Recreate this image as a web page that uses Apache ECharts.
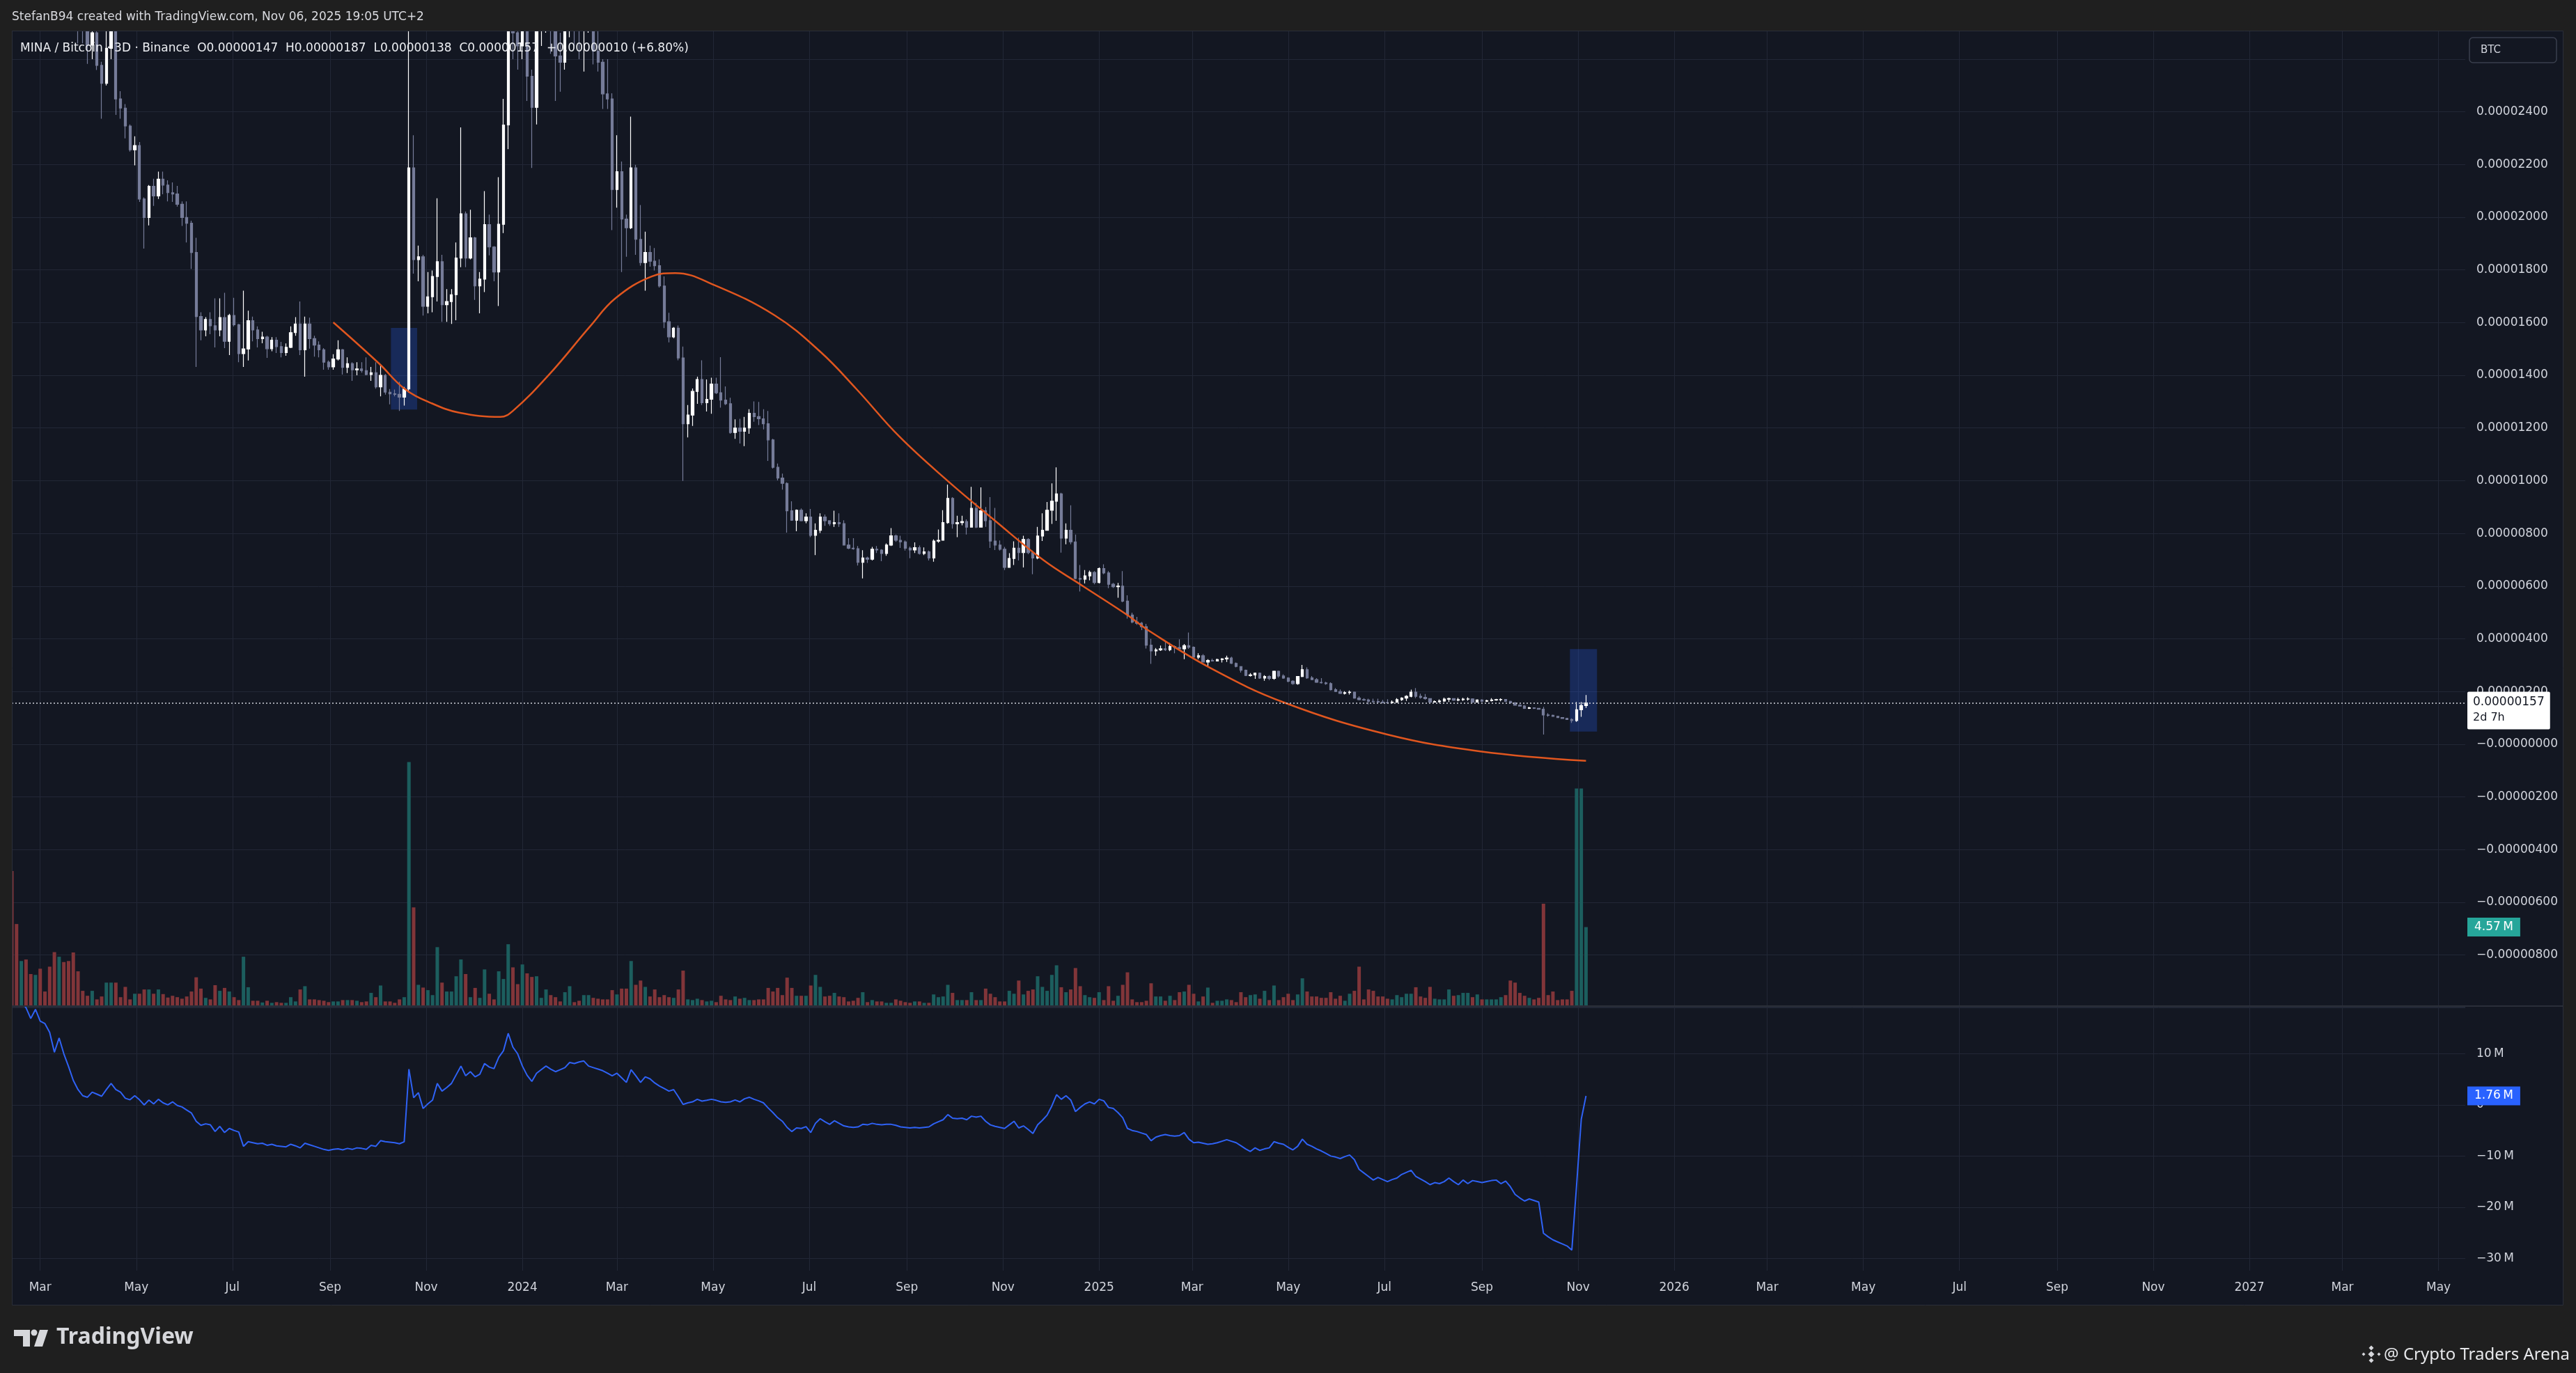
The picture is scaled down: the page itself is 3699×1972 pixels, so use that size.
<!DOCTYPE html>
<html>
<head>
<meta charset="utf-8">
<title>MINA / Bitcoin · 3D · Binance</title>
<script src="https://cdn.jsdelivr.net/npm/echarts@6/dist/echarts.min.js"></script>
<style>
  html, body { margin: 0; padding: 0; background: #1f1f1f; }
  #chart { width: 3699px; height: 1972px; }
</style>
</head>
<body>
<div id="chart"></div>
<script>
// MINA/BTC, 3D candles. Prices in satoshi (1e-8 BTC), volume and OBV in millions.
const firstCandle = '2023-02-11';
const candleDays = 3;

const opens = [
  4200,4000,3850,3950,3800,3700,3780,3650,3600,3450,
  3250,3350,3200,3050,2900,2750,2720,2653,2700,2576,
  2508,2641,2740,2449,2414,2346,2256,2272,2069,1999,
  2117,2081,2144,2122,2093,2088,2049,1999,1977,1866,
  1623,1572,1612,1588,1572,1619,1529,1627,1592,1482,
  1500,1607,1572,1539,1545,1501,1533,1509,1486,1506,
  1562,1595,1497,1595,1539,1515,1497,1450,1432,1462,
  1497,1430,1444,1421,1424,1418,1403,1410,1356,1400,
  1336,1330,1328,1317,1348,2187,1839,1850,1662,1698,
  1775,1831,1668,1680,1706,1845,2013,1845,1922,1739,
  1765,1972,1887,1792,1973,2350,2780,2700,2650,2760,
  2535,2417,2760,2850,2900,2800,2612,2588,2760,2820,
  2760,2720,2790,2850,2630,2588,2468,2449,2105,2173,
  1993,1960,2187,1916,1828,1866,1833,1816,1739,1603,
  1546,1579,1466,1216,1249,1339,1384,1296,1309,1367,
  1334,1306,1292,1183,1200,1188,1200,1256,1243,1235,
  1216,1155,1051,1010,990,886,850,888,848,862,
  793,812,862,848,837,841,837,756,744,742,
  690,707,702,740,737,724,756,791,774,768,
  744,737,746,724,730,707,771,774,841,933,
  837,841,845,824,895,824,886,848,771,756,
  740,671,705,744,727,777,727,707,790,812,
  888,922,950,782,812,768,629,626,639,652,
  614,667,650,607,598,600,543,490,464,459,
  446,376,354,358,362,359,371,367,362,374,
  368,330,336,312,318,316,321,324,327,307,
  295,281,261,263,270,251,257,250,277,259,
  251,239,230,257,283,252,245,235,233,230,
  207,200,193,196,198,175,169,168,163,162,
  160,158,157,160,169,175,182,198,182,178,
  173,160,162,164,171,173,167,169,171,172,
  160,168,163,165,168,169,170,163,157,148,
  145,136,138,136,133,111,110,106,101,98,
  94,90,131,147
];

const closes = [
  4000,3850,3950,3800,3700,3780,3650,3600,3450,3250,
  3350,3200,3050,2900,2750,2720,2653,2700,2576,2508,
  2641,2740,2449,2414,2346,2256,2272,2069,1999,2117,
  2081,2144,2122,2093,2088,2049,1999,1977,1866,1623,
  1572,1612,1588,1572,1619,1529,1627,1592,1482,1500,
  1607,1572,1539,1545,1501,1533,1509,1486,1506,1562,
  1595,1497,1595,1539,1515,1497,1450,1432,1462,1497,
  1430,1444,1421,1424,1418,1403,1410,1356,1400,1336,
  1330,1328,1317,1348,2187,1839,1850,1662,1698,1775,
  1831,1668,1680,1706,1845,2013,1845,1922,1739,1765,
  1972,1887,1792,1973,2350,2780,2700,2650,2760,2535,
  2417,2760,2850,2900,2800,2612,2588,2760,2820,2760,
  2720,2790,2850,2630,2588,2468,2449,2105,2173,1993,
  1960,2187,1916,1828,1866,1833,1816,1739,1603,1546,
  1579,1466,1216,1249,1339,1384,1296,1309,1367,1334,
  1306,1292,1183,1200,1188,1200,1256,1243,1235,1216,
  1155,1051,1010,990,886,850,888,848,862,793,
  812,862,848,837,841,837,756,744,742,690,
  707,702,740,737,724,756,791,774,768,744,
  737,746,724,730,707,771,774,841,933,837,
  841,845,824,895,824,886,848,771,756,740,
  671,705,744,727,777,727,707,790,812,888,
  922,950,782,812,768,629,626,639,652,614,
  667,650,607,598,600,543,490,464,459,446,
  376,354,358,362,359,371,367,362,374,368,
  330,336,312,318,316,321,324,327,307,295,
  281,261,263,270,251,257,250,277,259,251,
  239,230,257,283,252,245,235,233,230,207,
  200,193,196,198,175,169,168,163,162,160,
  158,157,160,169,175,182,198,182,178,173,
  160,162,164,171,173,167,169,171,172,160,
  168,163,165,168,169,170,163,157,148,145,
  136,138,136,133,111,110,106,101,98,94,
  90,131,147,157
];

const highs = [
  4300,4050,4050,3980,3850,3850,3800,3700,3650,3480,
  3420,3380,3250,3080,2950,2850,2780,2760,2720,2590,
  2740,2800,2760,2478,2429,2352,2307,2285,2075,2122,
  2146,2173,2173,2140,2132,2119,2060,2060,1987,1922,
  1639,1621,1639,1692,1692,1713,1633,1694,1595,1721,
  1645,1623,1586,1565,1550,1545,1545,1527,1521,1586,
  1621,1680,1623,1619,1550,1529,1503,1456,1480,1533,
  1500,1468,1450,1450,1450,1468,1432,1450,1440,1405,
  1348,1346,1376,1356,2730,2311,1892,1857,1792,1798,
  2072,1857,1727,1727,1904,2341,2022,2028,1925,1792,
  2099,2010,1890,2152,2449,2900,2950,2850,2900,2780,
  2560,2850,2950,3000,2950,2850,2700,2850,2900,2880,
  2850,2880,2950,2870,2750,2600,2600,2470,2311,2211,
  2010,2382,2199,2046,1945,1892,1883,1840,1775,1637,
  1583,1589,1509,1287,1350,1395,1457,1384,1391,1391,
  1469,1358,1315,1233,1235,1242,1271,1301,1299,1271,
  1265,1159,1065,1027,994,922,891,895,876,893,
  838,876,872,850,886,876,850,782,782,752,
  736,712,749,752,740,762,820,796,791,773,
  750,766,754,747,735,777,815,888,985,938,
  867,867,853,977,916,975,900,938,897,773,
  749,725,770,784,791,782,735,825,876,919,
  990,1051,954,838,907,796,680,661,659,657,
  671,683,657,612,612,657,565,499,483,464,
  457,400,365,374,389,384,375,398,380,424,
  371,345,342,323,325,325,327,336,332,310,
  296,283,270,272,272,262,262,279,279,265,
  254,243,259,301,292,259,251,251,237,235,
  213,208,201,204,200,182,175,173,173,173,
  168,171,166,175,178,186,207,213,192,191,
  175,166,170,177,177,175,176,176,178,174,
  170,171,169,175,172,174,171,165,160,152,
  149,142,140,138,142,118,112,106,103,100,
  98,160,160,187
];

const lows = [
  3900,3750,3800,3700,3600,3650,3550,3500,3400,3150,
  3200,3100,2950,2780,2659,2660,2582,2600,2559,2374,
  2500,2600,2388,2374,2299,2249,2197,2058,1881,1969,
  2043,2069,2087,2060,2058,2040,1967,1904,1804,1432,
  1533,1548,1556,1506,1548,1503,1477,1586,1450,1432,
  1456,1529,1506,1522,1466,1491,1485,1468,1474,1503,
  1550,1477,1395,1501,1471,1468,1421,1421,1421,1456,
  1403,1409,1379,1400,1410,1400,1379,1349,1320,1327,
  1290,1320,1265,1285,1335,1786,1757,1627,1635,1639,
  1680,1603,1603,1595,1609,1810,1810,1840,1686,1635,
  1716,1855,1757,1663,1940,2258,2600,2560,2600,2441,
  2187,2352,2650,2700,2620,2441,2476,2560,2683,2650,
  2600,2553,2700,2580,2553,2411,2411,1951,2036,1792,
  1850,1955,1857,1816,1721,1812,1798,1733,1579,1525,
  1541,1457,999,1164,1208,1292,1287,1263,1254,1329,
  1277,1287,1178,1159,1141,1131,1178,1224,1211,1195,
  1075,1046,1001,966,803,848,808,846,839,786,
  718,802,829,829,825,825,754,740,738,678,
  629,688,697,726,695,715,752,768,745,735,
  706,726,720,718,697,693,765,773,837,818,
  786,831,796,822,820,822,825,745,737,735,
  661,670,680,697,671,721,645,702,771,810,
  836,848,727,759,759,626,580,610,622,607,
  610,645,592,593,556,539,477,459,453,433,
  363,305,336,354,354,353,345,360,323,362,
  327,323,310,297,314,314,310,312,304,292,
  272,259,257,248,248,241,243,245,253,248,
  235,226,226,255,248,244,233,230,226,204,
  198,191,189,189,173,166,164,151,157,157,
  155,155,154,157,164,164,178,175,173,169,
  157,158,157,160,160,164,163,164,165,157,
  158,160,160,162,165,163,160,155,147,143,
  134,134,134,132,37,104,104,100,96,92,
  81,85,104,138
];

const volumes = [
  7.84,4.75,2.59,2.68,1.83,1.78,2.14,0.81,2.26,3.11,
  2.84,2.53,2.59,3.09,1.99,0.85,0.56,0.85,0.35,0.52,
  1.33,1.33,1.33,0.48,1.08,0.35,0.68,0.68,0.93,0.93,
  0.68,0.93,0.66,0.46,0.56,0.48,0.39,0.52,0.81,1.64,
  0.98,0.44,0.35,1.18,0.85,1.02,0.81,0.48,0.31,2.84,
  1.06,0.27,0.27,0.17,0.27,0.15,0.19,0.15,0.15,0.48,
  0.23,0.93,1.12,0.35,0.35,0.31,0.27,0.19,0.23,0.23,
  0.31,0.31,0.31,0.27,0.19,0.23,0.73,0.48,1.16,0.23,
  0.23,0.15,0.35,0.48,14.2,5.72,1.2,1.04,0.89,0.6,
  3.4,1.33,0.81,0.81,1.7,2.68,1.83,0.48,1.02,0.44,
  2.1,0.68,0.35,1.99,1.54,3.57,2.22,1.24,2.39,1.87,
  1.66,1.7,0.44,0.93,0.6,0.48,0.23,0.77,1.12,0.19,
  0.27,0.6,0.6,0.44,0.39,0.35,0.35,0.89,0.64,0.98,
  0.98,2.59,1.2,1.45,1.08,0.52,0.93,0.48,0.6,0.48,
  0.44,0.93,2.03,0.35,0.31,0.39,0.31,0.23,0.27,0.19,
  0.56,0.35,0.31,0.52,0.39,0.44,0.31,0.31,0.35,0.35,
  1.02,0.81,1.02,0.6,1.62,1.02,0.56,0.56,0.56,1.16,
  1.78,1.08,0.52,0.56,0.73,0.52,0.48,0.23,0.27,0.44,
  0.77,0.19,0.31,0.23,0.23,0.15,0.15,0.35,0.27,0.19,
  0.15,0.23,0.23,0.15,0.15,0.64,0.48,0.52,1.2,0.73,
  0.31,0.31,0.31,0.77,0.31,0.31,0.98,0.68,0.48,0.23,
  0.23,0.85,0.68,1.45,0.64,0.85,0.93,1.7,1.08,0.85,
  1.78,2.34,1.06,0.77,0.93,2.18,1.12,0.6,0.48,0.44,
  0.77,0.31,1.12,0.27,0.56,1.2,1.93,0.35,0.19,0.19,
  0.27,1.29,0.52,0.52,0.27,0.56,0.31,0.77,0.81,1.2,
  0.68,0.23,0.52,1.04,0.15,0.27,0.27,0.35,0.31,0.19,
  0.77,0.48,0.6,0.64,0.39,0.85,0.31,1.16,0.31,0.48,
  0.68,0.31,0.64,1.58,0.81,0.52,0.52,0.44,0.44,0.77,
  0.39,0.56,0.27,0.68,0.85,2.26,0.35,0.93,0.85,0.52,
  0.52,0.39,0.35,0.6,0.48,0.68,0.68,1.06,0.52,0.44,
  1.08,0.39,0.35,0.35,0.93,0.56,0.6,0.73,0.73,0.48,
  0.64,0.35,0.35,0.35,0.35,0.48,0.6,1.45,1.33,0.73,
  0.56,0.44,0.35,0.44,5.93,0.6,0.81,0.31,0.35,0.35,
  0.85,12.66,12.66,4.57
];

const obv = [
  22.5,21.5,20.2,19.0,16.9,18.7,16.4,15.9,14.2,10.3,
  13.1,10.0,7.5,4.8,3.0,1.8,1.5,2.5,2.1,1.7,
  3.0,4.2,3.0,2.5,1.3,1.0,1.8,1.0,0.0,0.96,
  0.2,1.1,0.4,0.0,0.6,-0.1,-0.4,-1.0,-1.6,-3.2,
  -4.0,-3.7,-3.9,-5.2,-4.2,-5.4,-4.6,-5.0,-5.3,-8.1,
  -7.2,-7.4,-7.6,-7.5,-7.9,-7.7,-8.0,-8.1,-8.2,-7.7,
  -8.0,-8.4,-7.5,-7.8,-8.1,-8.4,-8.7,-8.9,-8.7,-8.6,
  -8.8,-8.5,-8.7,-8.4,-8.5,-8.7,-7.9,-8.1,-7.0,-7.2,
  -7.3,-7.4,-7.6,-7.2,7.0,1.4,2.4,-0.7,0.2,0.96,
  4.2,2.7,3.4,4.2,5.9,7.6,5.7,6.5,5.5,6.0,
  8.1,7.4,7.1,9.3,10.6,14.0,11.3,10.0,7.6,5.8,
  4.6,6.2,6.9,7.6,7.0,6.5,6.9,7.3,8.3,8.1,
  8.4,8.6,7.6,7.3,7.0,6.7,6.2,5.7,6.2,5.3,
  4.4,6.9,5.7,4.4,5.5,5.1,4.3,3.7,3.2,2.7,
  3.0,1.6,0.1,0.4,0.6,1.1,0.75,0.9,1.1,0.9,
  0.6,0.5,0.6,0.96,0.6,1.2,1.5,1.1,0.8,0.4,
  -0.6,-1.5,-2.5,-3.2,-4.4,-5.2,-4.5,-4.6,-4.25,-5.4,
  -3.6,-2.7,-3.3,-3.8,-3.1,-3.6,-4.1,-4.3,-4.4,-4.3,
  -3.8,-3.9,-3.6,-3.8,-3.9,-3.8,-3.8,-4.0,-4.3,-4.4,
  -4.5,-4.4,-4.5,-4.4,-4.3,-3.7,-3.3,-2.9,-1.9,-2.6,
  -2.7,-2.6,-2.9,-2.2,-2.4,-2.2,-3.2,-3.9,-4.2,-4.4,
  -4.6,-3.9,-3.2,-4.5,-4.1,-4.8,-5.6,-3.9,-3.0,-2.0,
  -0.2,2.0,1.1,1.8,0.96,-1.3,-0.5,0.2,0.6,0.2,
  1.1,0.8,-0.5,-0.7,-1.5,-2.5,-4.6,-5.0,-5.2,-5.5,
  -5.8,-7.0,-6.3,-6.0,-5.8,-6.0,-6.1,-6.0,-5.4,-6.7,
  -7.4,-7.3,-7.5,-7.7,-7.6,-7.4,-7.1,-6.8,-7.1,-7.4,
  -8.0,-8.6,-9.1,-8.4,-8.9,-8.6,-8.4,-7.2,-7.5,-7.7,
  -8.3,-8.8,-8.1,-6.7,-7.7,-8.1,-8.6,-9.0,-9.5,-10.0,
  -10.2,-10.5,-10.1,-9.8,-10.7,-12.6,-13.3,-14.0,-14.7,-14.2,
  -14.6,-15.0,-14.6,-14.3,-13.6,-13.2,-12.8,-14.0,-14.5,-15.0,
  -15.6,-15.2,-15.4,-15.0,-14.3,-15.0,-15.6,-14.7,-15.4,-14.8,
  -15.0,-15.2,-15.0,-14.8,-14.7,-15.4,-14.9,-16.0,-17.5,-18.2,
  -18.8,-18.4,-18.7,-19.0,-25.1,-25.8,-26.4,-26.8,-27.2,-27.6,
  -28.4,-15.8,-2.8,1.76
];

// long moving average (orange), read at selected dates
const maDates = ['2023-09-03','2023-10-02','2023-10-18','2023-11-04','2023-11-22','2023-12-18',
  '2023-12-26','2024-01-18','2024-02-13','2024-02-29','2024-03-23','2024-04-07','2024-05-02',
  '2024-06-09','2024-07-08','2024-07-31','2024-08-27','2024-09-27','2024-10-27','2024-11-27',
  '2024-12-21','2025-01-19','2025-02-01','2025-03-13','2025-04-29','2025-07-03','2025-08-31','2025-11-06'];
const maValues = [1601,1445,1350,1295,1258,1242,1265,1403,1586,1692,1775,1788,1742,
  1628,1490,1348,1169,999,848,697,603,490,433,288,157,37,-27,-63];

// highlighted zones (date range, price range in sats)
const zones = [
  { from: '2023-10-09T14:00:00Z', to: '2023-10-26T05:00:00Z', low: 1270, high: 1580 },
  { from: '2025-10-26T19:00:00Z', to: '2025-11-13T00:00:00Z', low: 48, high: 361 }
];

const monthTicks = ['2023-03-01','2023-05-01','2023-07-01','2023-09-01','2023-11-01',
  '2024-01-01','2024-03-01','2024-05-01','2024-07-01','2024-09-01','2024-11-01',
  '2025-01-01','2025-03-01','2025-05-01','2025-07-01','2025-09-01','2025-11-01',
  '2026-01-01','2026-03-01','2026-05-01','2026-07-01','2026-09-01','2026-11-01',
  '2027-01-01','2027-03-01','2027-05-01'];
const monthNames = ['Jan','Feb','Mar','Apr','May','Jun','Jul','Aug','Sep','Oct','Nov','Dec'];

const headerText = 'StefanB94 created with TradingView.com, Nov 06, 2025 19:05 UTC+2';
const symbolText = 'MINA / Bitcoin \u00b7 3D \u00b7 Binance';
const countdown = '2d 7h';

const DAY = 86400000;
const toTime = s => Date.parse(s.length === 10 ? s + 'T00:00:00Z' : s);
const t0 = toTime(firstCandle);
const times = closes.map((_, i) => t0 + i * candleDays * DAY);
const tMin = toTime('2023-02-11');
const tMax = toTime('2027-05-18');
const monthTimes = monthTicks.map(toTime);

const fmtSat = v => (Math.abs(v) / 1e8).toFixed(8);
const fmtPrice = v => (v <= 0 ? '\u2212' : '') + fmtSat(v);
const fmtM = v => {
  const a = Math.abs(v);
  const s = Number.isInteger(a) ? String(a) : a.toFixed(2);
  return (v < 0 ? '\u2212' : '') + s + '\u2009M';
};

const last = closes.length - 1;
const change = closes[last] - closes[last - 1];
const legendText = symbolText +
  '  O' + fmtSat(opens[last]) + '  H' + fmtSat(highs[last]) +
  '  L' + fmtSat(lows[last]) + '  C' + fmtSat(closes[last]) +
  '  ' + (change >= 0 ? '+' : '\u2212') + fmtSat(change) +
  ' (' + (change >= 0 ? '+' : '\u2212') + (Math.abs(change) / closes[last - 1] * 100).toFixed(2) + '%)';

const upColor = '#ffffff';
const downColor = '#767c99';
const volUp = '#1c5e5e';
const volDown = '#813539';
const gridColor = '#222736';
const frameColor = '#1f1f1f';
const logoColor = '#d6d7db';
const font = 'DejaVu Sans';
const axisText = { color: '#d1d4dc', fontSize: 17, fontFamily: font };

const W = 3699, plotLeft = 17, plotRight = 3540;

// x axes are plain value axes holding UTC timestamps; labels sit on month starts
function timeAxis(gridIndex, extra) {
  return Object.assign({
    type: 'value', gridIndex: gridIndex, min: tMin, max: tMax, scale: true,
    axisLine: { show: false },
    axisTick: { show: false, customValues: monthTimes },
    axisLabel: { show: false },
    splitLine: { show: false }
  }, extra || {});
}

// price-scale tag drawn at the right end of a horizontal marker
function tag(bg, text) {
  return {
    show: true, position: 'end', distance: 3,
    backgroundColor: bg, color: '#ffffff', padding: [5, 10, 5, 10],
    fontSize: 17, fontFamily: font, formatter: text
  };
}

// small Binance-style mark next to the author name
const bx = 3405, by = 1945;
const diamond = (cx, cy, r) => ({
  type: 'polygon', z: 51, silent: true,
  shape: { points: [[cx, cy - r], [cx + r, cy], [cx, cy + r], [cx - r, cy]] },
  style: { fill: logoColor }
});

const chart = echarts.init(document.getElementById('chart'));

chart.setOption({
  animation: false,
  backgroundColor: '#131722',
  textStyle: { fontFamily: font },
  grid: [
    { left: plotLeft, top: 44, width: plotRight - plotLeft, height: 1403.4, outerBoundsMode: 'none' },
    { left: plotLeft, top: 44, width: plotRight - plotLeft, height: 1400, outerBoundsMode: 'none' },
    { left: plotLeft, top: 1446, width: plotRight - plotLeft, height: 361.2, outerBoundsMode: 'none' },
    { left: plotLeft, top: 1446, width: plotRight - plotLeft, height: 379, outerBoundsMode: 'none' }
  ],
  xAxis: [
    timeAxis(0),
    timeAxis(1, { splitLine: { show: true, lineStyle: { color: gridColor, width: 1 } } }),
    timeAxis(2),
    timeAxis(3, {
      splitLine: { show: true, lineStyle: { color: gridColor, width: 1 } },
      axisLabel: Object.assign({
        show: true, margin: 16, customValues: monthTimes,
        formatter: v => {
          const d = new Date(v);
          return d.getUTCMonth() === 0 ? String(d.getUTCFullYear()) : monthNames[d.getUTCMonth()];
        }
      }, axisText)
    })
  ],
  yAxis: [
    {
      type: 'value', gridIndex: 0, position: 'right', min: -1000, max: 2708, interval: 200,
      axisLine: { show: false }, axisTick: { show: false },
      splitLine: { lineStyle: { color: gridColor, width: 1 } },
      axisLabel: Object.assign({
        margin: 16,
        formatter: v => (Math.abs(v % 200) < 1e-6 && v >= -800 && v <= 2400) ? fmtPrice(v) : ''
      }, axisText)
    },
    { type: 'value', gridIndex: 1, min: 0, max: 56.9, show: false },
    {
      type: 'value', gridIndex: 2, position: 'right', min: -30, max: 19.2, interval: 10,
      axisLine: { show: false }, axisTick: { show: false },
      splitLine: { lineStyle: { color: gridColor, width: 1 } },
      axisLabel: Object.assign({
        margin: 16,
        formatter: v => Math.abs(v % 10) < 1e-6 ? (v === 0 ? '0' : fmtM(v)) : ''
      }, axisText)
    },
    { type: 'value', gridIndex: 3, min: 0, max: 1, show: false }
  ],
  series: [
    {
      type: 'candlestick', xAxisIndex: 0, yAxisIndex: 0, z: 3, clip: true,
      barWidth: 3.8,
      encode: { x: 0, y: [1, 2, 3, 4] },
      data: times.map((t, i) => [t, opens[i], closes[i], lows[i], highs[i]]),
      itemStyle: {
        color: upColor, color0: downColor,
        borderColor: upColor, borderColor0: downColor, borderWidth: 1.2
      },
      markArea: {
        silent: true,
        itemStyle: { color: 'rgba(41,98,255,0.25)' },
        label: { show: false },
        data: zones.map(z => [
          { xAxis: toTime(z.from), yAxis: z.high },
          { xAxis: toTime(z.to), yAxis: z.low }
        ])
      },
      markLine: {
        silent: true, symbol: ['none', 'none'],
        lineStyle: { color: '#d1d4dc', type: [2, 3], width: 1.5 },
        label: {
          show: true, position: 'end', distance: 3, offset: [0, 11],
          backgroundColor: '#ffffff', padding: [4, 8, 6, 8], borderRadius: 2,
          formatter: '{p|' + fmtSat(closes[last]) + '}\n{t|' + countdown + '}',
          rich: {
            p: { color: '#131722', fontSize: 17, fontFamily: font, lineHeight: 22 },
            t: { color: '#131722', fontSize: 16, fontFamily: font, lineHeight: 22 }
          }
        },
        data: [{ yAxis: closes[last] }]
      }
    },
    {
      type: 'line', xAxisIndex: 0, yAxisIndex: 0, z: 4,
      data: maDates.map((d, i) => [toTime(d), maValues[i]]),
      smooth: 0.4, showSymbol: false, clip: true,
      lineStyle: { color: '#e0561f', width: 2.5 }
    },
    {
      type: 'bar', xAxisIndex: 1, yAxisIndex: 1, z: 1, barWidth: 5,
      data: times.map((t, i) => ({
        value: [t, volumes[i]],
        itemStyle: { color: closes[i] >= opens[i] ? volUp : volDown }
      })),
      markLine: {
        silent: true, symbol: ['none', 'none'],
        lineStyle: { color: 'rgba(0,0,0,0)', width: 1 },
        label: tag('#26a69a', fmtM(volumes[last])),
        data: [{ yAxis: volumes[last] }]
      }
    },
    {
      type: 'line', xAxisIndex: 2, yAxisIndex: 2, z: 3,
      data: times.map((t, i) => [t, obv[i]]),
      showSymbol: false, clip: true,
      lineStyle: { color: '#2f62f5', width: 2 },
      markLine: {
        silent: true, symbol: ['none', 'none'],
        lineStyle: { color: 'rgba(0,0,0,0)', width: 1 },
        label: tag('#2962ff', fmtM(obv[last])),
        data: [{ yAxis: obv[last] }]
      }
    }
  ],
  graphic: {
    elements: [
      { type: 'rect', z: 50, silent: true, shape: { x: 0, y: 0, width: W, height: 44 }, style: { fill: frameColor } },
      { type: 'rect', z: 50, silent: true, shape: { x: 0, y: 44, width: plotLeft, height: 1928 }, style: { fill: frameColor } },
      { type: 'rect', z: 50, silent: true, shape: { x: 3681, y: 44, width: 18, height: 1928 }, style: { fill: frameColor } },
      { type: 'rect', z: 50, silent: true, shape: { x: 0, y: 1875, width: W, height: 97 }, style: { fill: frameColor } },
      { type: 'rect', z: 50, silent: true, shape: { x: plotLeft + 0.5, y: 44.5, width: 3663, height: 1830 }, style: { fill: 'none', stroke: '#2a2e39', lineWidth: 1 } },
      { type: 'rect', z: 50, silent: true, shape: { x: plotLeft, y: 1444, width: 3664, height: 2 }, style: { fill: '#2a2e39' } },
      { type: 'rect', z: 50, silent: true, shape: { x: 3546, y: 54, width: 125, height: 36, r: 5 }, style: { fill: '#131722', stroke: '#3a3f4d', lineWidth: 1.5 } },
      { type: 'text', z: 51, silent: true, style: { text: 'BTC', x: 3562, y: 72, fill: '#d1d4dc', font: '15px "DejaVu Sans"', verticalAlign: 'middle', textVerticalAlign: 'middle' } },
      { type: 'text', z: 51, silent: true, style: { text: headerText, x: 17, y: 25, fill: '#d9dadf', font: '17px "DejaVu Sans"', verticalAlign: 'middle', textVerticalAlign: 'middle' } },
      { type: 'text', z: 51, silent: true, style: { text: legendText, x: 29, y: 70, fill: '#eceef2', font: '17px "DejaVu Sans"', verticalAlign: 'middle', textVerticalAlign: 'middle' } },
      // TradingView logo
      { type: 'polygon', z: 51, silent: true, shape: { points: [[20, 1910], [43, 1910], [43, 1934], [33, 1934], [33, 1919], [20, 1919]] }, style: { fill: logoColor } },
      { type: 'circle', z: 51, silent: true, shape: { cx: 49, cy: 1914, r: 4.5 }, style: { fill: logoColor } },
      { type: 'polygon', z: 51, silent: true, shape: { points: [[57, 1910], [69, 1910], [61, 1934], [49, 1934]] }, style: { fill: logoColor } },
      { type: 'text', z: 51, silent: true, style: { text: 'TradingView', x: 81, y: 1921, fill: logoColor, font: 'bold 32px "Noto Sans"', verticalAlign: 'middle', textVerticalAlign: 'middle' } },
      diamond(bx, by, 4.5), diamond(bx, by - 9, 3.5), diamond(bx, by + 9, 3.5),
      diamond(bx - 11, by, 2.5), diamond(bx + 11, by, 2.5),
      { type: 'text', z: 51, silent: true, style: { text: '@ Crypto Traders Arena', x: 3690, y: 1946, fill: '#e6e7ea', font: '24px "Noto Sans"', align: 'right', textAlign: 'right', verticalAlign: 'middle', textVerticalAlign: 'middle' } }
    ]
  }
});
</script>
</body>
</html>
